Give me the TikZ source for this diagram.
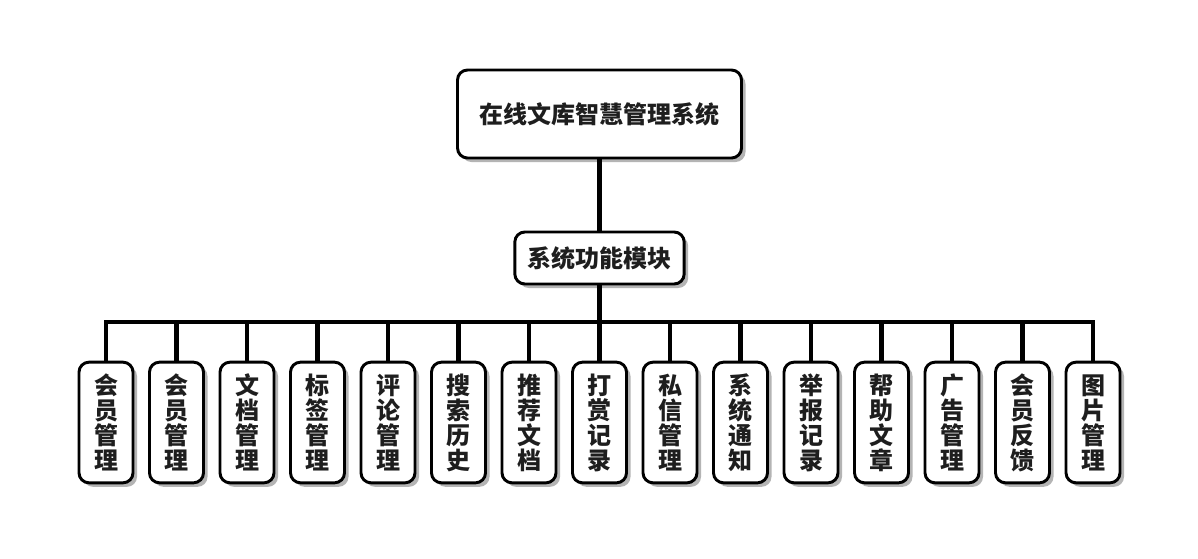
\documentclass[tikz,border=0pt]{standalone}
\usepackage{fontspec}
\usepackage{tikz}
\usetikzlibrary{positioning, shadows}
\newfontfamily\cjk{Noto Sans CJK SC}
\definecolor{boxborder}{RGB}{0, 0, 0}
\definecolor{boxtext}{RGB}{30, 30, 30}
\definecolor{shadowgray}{RGB}{120, 120, 120}

\tikzset{
    basebox/.style={draw=boxborder, fill=white, line width=2.2pt, rounded corners=7.5pt,
        text=boxtext, font=\cjk\bfseries\fontsize{18}{18.75}\selectfont, align=center,
        drop shadow={shadow xshift=3pt, shadow yshift=-3pt, fill=shadowgray, opacity=0.55}},
    rootbox/.style={basebox, minimum width=213pt, minimum height=66pt},
    groupbox/.style={basebox, minimum width=127pt, minimum height=39pt},
    leafbox/.style={basebox, minimum width=40.5pt, minimum height=90.5pt, inner sep=0pt},
    link/.style={draw=black, line width=3.4pt}
}

\begin{document}
\begin{tikzpicture}[x=0.75pt, y=-0.75pt]
    \useasboundingbox[fill=white] (0,0) rectangle (1198,558);

    % top of the tree
    \node[rootbox] (root) at (599.5,114) {在线文库智慧管理系统};
    \node[groupbox] (modules) at (599.5,258) {系统功能模块};
    \coordinate (bus) at (599.5,322);

    % modules
    \node[leafbox] (m1) at (106,422.5) {会\\员\\管\\理};
    \node[leafbox] (m2) at (176.5,422.5) {会\\员\\管\\理};
    \node[leafbox] (m3) at (247,422.5) {文\\档\\管\\理};
    \node[leafbox] (m4) at (317.5,422.5) {标\\签\\管\\理};
    \node[leafbox] (m5) at (388,422.5) {评\\论\\管\\理};
    \node[leafbox] (m6) at (458.5,422.5) {搜\\索\\历\\史};
    \node[leafbox] (m7) at (529,422.5) {推\\荐\\文\\档};
    \node[leafbox] (m8) at (599.5,422.5) {打\\赏\\记\\录};
    \node[leafbox] (m9) at (670,422.5) {私\\信\\管\\理};
    \node[leafbox] (m10) at (740.5,422.5) {系\\统\\通\\知};
    \node[leafbox] (m11) at (811,422.5) {举\\报\\记\\录};
    \node[leafbox] (m12) at (881.5,422.5) {帮\\助\\文\\章};
    \node[leafbox] (m13) at (952,422.5) {广\\告\\管\\理};
    \node[leafbox] (m14) at (1022.5,422.5) {会\\员\\反\\馈};
    \node[leafbox] (m15) at (1093,422.5) {图\\片\\管\\理};

    % connectors
    \draw[link] (root.south) -- (modules.north);
    \draw[link] (modules.south) -- (bus);
    \draw[link] (bus) -| (m1.north);
    \draw[link] (bus) -| (m2.north);
    \draw[link] (bus) -| (m3.north);
    \draw[link] (bus) -| (m4.north);
    \draw[link] (bus) -| (m5.north);
    \draw[link] (bus) -| (m6.north);
    \draw[link] (bus) -| (m7.north);
    \draw[link] (bus) -- (m8.north);
    \draw[link] (bus) -| (m9.north);
    \draw[link] (bus) -| (m10.north);
    \draw[link] (bus) -| (m11.north);
    \draw[link] (bus) -| (m12.north);
    \draw[link] (bus) -| (m13.north);
    \draw[link] (bus) -| (m14.north);
    \draw[link] (bus) -| (m15.north);
\end{tikzpicture}
\end{document}
